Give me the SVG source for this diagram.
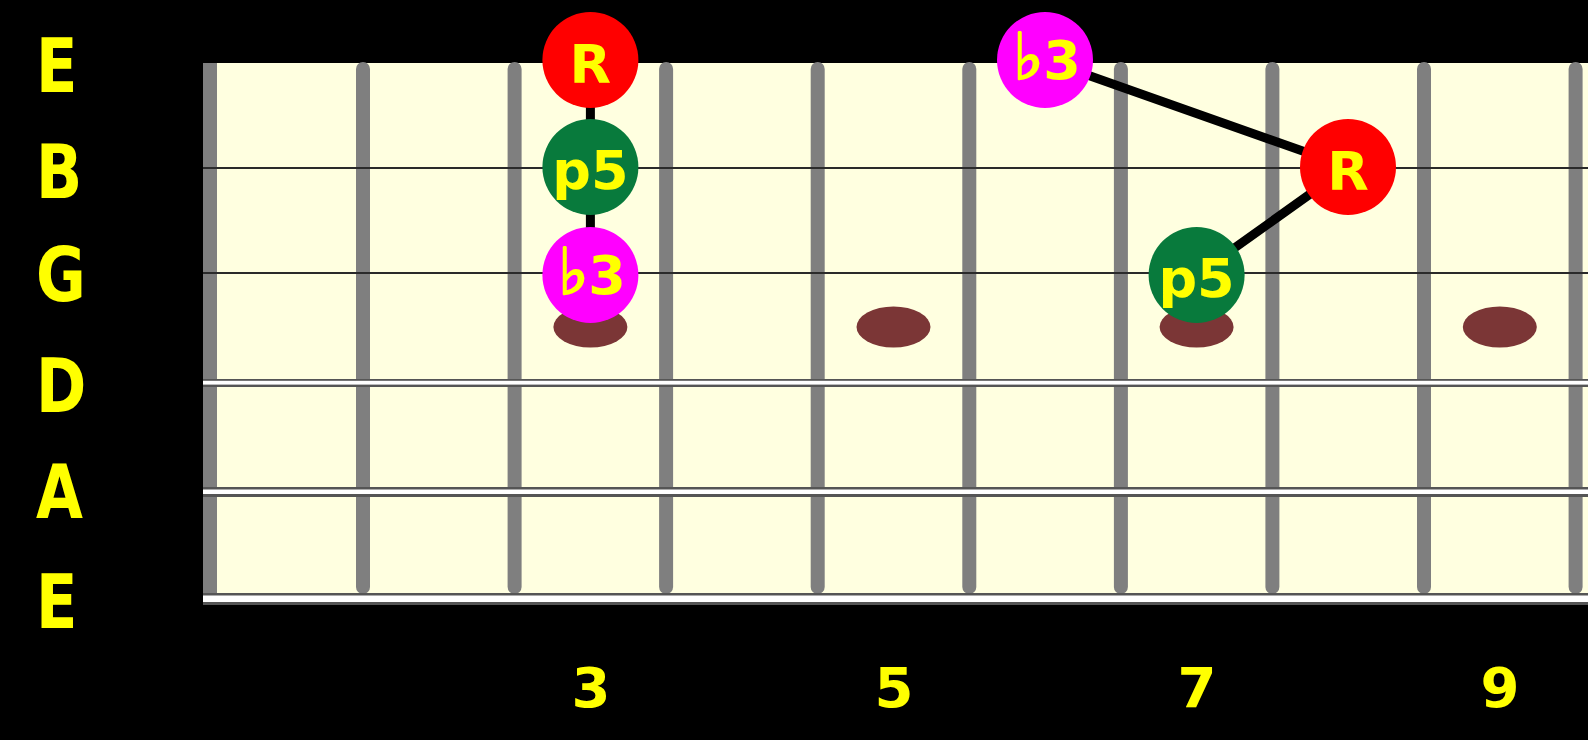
<svg xmlns="http://www.w3.org/2000/svg" width="1588" height="740" viewBox="0 0 1588 740">
<defs>
<style>
.lbl{font-family:"DejaVu Sans","Liberation Sans",sans-serif;font-weight:bold;fill:#FFFF00}
.str{font-size:74px}
.num{font-size:56px;text-anchor:middle}
.note{font-size:54px;text-anchor:middle}
.flat{font-size:64px;stroke:#FFFF00;stroke-width:2.2}
.fret{fill:#7F7F7F}
.thin{stroke:#2a2a2a;stroke-width:1.8}
.mark{fill:#7B3636}
.conn{stroke:#000;stroke-width:9;stroke-linecap:round;stroke-linejoin:round;fill:none}
</style>
</defs>
<rect width="1588" height="740" fill="#000"/>
<g id="fretboard">
<rect x="203" y="63" width="1385" height="531" fill="#FFFFE0"/>
<rect id="nut" x="203" y="63" width="14" height="531" class="fret"/>
<g id="frets">
<rect x="356" y="62" width="14" height="532" rx="7" class="fret"/>
<rect x="507.6" y="62" width="14" height="532" rx="7" class="fret"/>
<rect x="659.1" y="62" width="14" height="532" rx="7" class="fret"/>
<rect x="810.7" y="62" width="14" height="532" rx="7" class="fret"/>
<rect x="962.3" y="62" width="14" height="532" rx="7" class="fret"/>
<rect x="1113.9" y="62" width="14" height="532" rx="7" class="fret"/>
<rect x="1265.4" y="62" width="14" height="532" rx="7" class="fret"/>
<rect x="1417" y="62" width="14" height="532" rx="7" class="fret"/>
<rect x="1568.6" y="62" width="14" height="532" rx="7" class="fret"/>
</g>
<g id="strings">
<line x1="203" y1="168" x2="1588" y2="168" class="thin"/>
<line x1="203" y1="273" x2="1588" y2="273" class="thin"/>
<rect x="203" y="379" width="1385" height="8" fill="#555"/>
<rect x="203" y="380.8" width="1385" height="3.8" fill="#fff"/>
<rect x="203" y="487" width="1385" height="10" fill="#555"/>
<rect x="203" y="489.5" width="1385" height="4.5" fill="#fff"/>
<rect x="203" y="593" width="1385" height="12" fill="#555"/>
<rect x="203" y="595.5" width="1385" height="6.5" fill="#fff"/>
</g>
<g id="markers">
<ellipse cx="590.4" cy="327" rx="37" ry="20.5" class="mark"/>
<ellipse cx="893.5" cy="327" rx="37" ry="20.5" class="mark"/>
<ellipse cx="1196.6" cy="327" rx="37" ry="20.5" class="mark"/>
<ellipse cx="1499.8" cy="327" rx="37" ry="20.5" class="mark"/>
</g>
</g>
<g id="string-labels" class="lbl str">
<text transform="translate(36,92) scale(0.82,1)">E</text>
<text transform="translate(36,198) scale(0.82,1)">B</text>
<text transform="translate(36,301) scale(0.82,1)">G</text>
<text transform="translate(36,412) scale(0.82,1)">D</text>
<text transform="translate(36,518) scale(0.82,1)">A</text>
<text transform="translate(36,628) scale(0.82,1)">E</text>
</g>
<g id="fret-numbers" class="lbl num">
<text x="591" y="707">3</text>
<text x="894" y="707">5</text>
<text x="1197" y="707">7</text>
<text x="1500" y="707">9</text>
</g>
<g id="connectors">
<line x1="590.4" y1="60" x2="590.4" y2="275" class="conn"/>
<polyline points="1045,60 1348,167 1196.6,275" class="conn"/>
</g>
<g id="note-R1"><circle cx="590.4" cy="60" r="48" fill="#FF0000"/><text x="590.4" y="83" class="lbl note">R</text></g>
<g id="note-p5-1"><circle cx="590.4" cy="167" r="48" fill="#087A3C"/><text x="590.4" y="189" class="lbl note">p5</text></g>
<g id="note-b3-1"><circle cx="590.4" cy="275" r="48" fill="#FF00FF"/><text x="592" y="294" class="lbl note"><tspan class="flat">♭</tspan>3</text></g>
<g id="note-b3-2"><circle cx="1045" cy="60" r="48" fill="#FF00FF"/><text x="1047" y="79" class="lbl note"><tspan class="flat">♭</tspan>3</text></g>
<g id="note-R2"><circle cx="1348" cy="167" r="48" fill="#FF0000"/><text x="1348" y="190" class="lbl note">R</text></g>
<g id="note-p5-2"><circle cx="1196.6" cy="275" r="48" fill="#087A3C"/><text x="1196.6" y="297" class="lbl note">p5</text></g>
</svg>
